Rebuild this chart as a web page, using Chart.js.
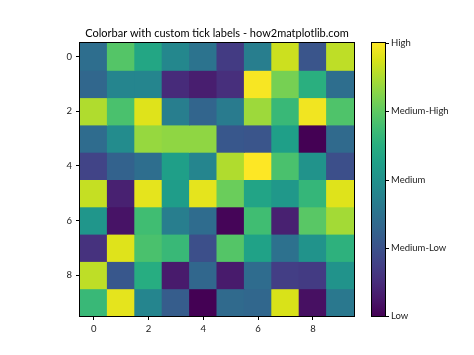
<!DOCTYPE html>
<html>
<head>
<meta charset="utf-8">
<script src="https://cdn.jsdelivr.net/npm/chart.js@4.4.1/dist/chart.umd.min.js"></script>
<style>
  html, body { margin: 0; padding: 0; background: #fff; }
  #wrap { width: 474px; height: 355px; }
</style>
</head>
<body>
<div id="wrap"><canvas id="c" width="474" height="355"></canvas></div>
<script>
// ---- data ----
const titleText = 'Colorbar with custom tick labels - how2matplotlib.com';
const columns = [0, 1, 2, 3, 4, 5, 6, 7, 8, 9];
const rowsIdx = [0, 1, 2, 3, 4, 5, 6, 7, 8, 9];
const row0 = [0.36, 0.73, 0.59, 0.46, 0.38, 0.17, 0.42, 0.92, 0.26, 0.90];
const row1 = [0.33, 0.45, 0.45, 0.12, 0.08, 0.13, 0.99, 0.79, 0.63, 0.36];
const row2 = [0.88, 0.71, 0.95, 0.42, 0.32, 0.41, 0.85, 0.67, 0.98, 0.72];
const row3 = [0.35, 0.48, 0.84, 0.83, 0.83, 0.27, 0.26, 0.56, 0.00, 0.34];
const row4 = [0.20, 0.31, 0.36, 0.56, 0.45, 0.88, 1.00, 0.71, 0.51, 0.24];
const row5 = [0.91, 0.09, 0.96, 0.55, 0.96, 0.77, 0.58, 0.53, 0.66, 0.95];
const row6 = [0.52, 0.05, 0.69, 0.42, 0.35, 0.01, 0.69, 0.09, 0.74, 0.86];
const row7 = [0.14, 0.95, 0.71, 0.67, 0.24, 0.73, 0.57, 0.37, 0.51, 0.64];
const row8 = [0.90, 0.27, 0.62, 0.07, 0.33, 0.07, 0.35, 0.18, 0.17, 0.51];
const row9 = [0.67, 0.96, 0.45, 0.29, 0.00, 0.34, 0.33, 0.94, 0.04, 0.40];
const gridRows = [row0, row1, row2, row3, row4, row5, row6, row7, row8, row9];
const axisTicks = [0, 2, 4, 6, 8];
const colorbarTicks = [0, 0.25, 0.5, 0.75, 1];
const colorbarLabels = ['Low', 'Medium-Low', 'Medium', 'Medium-High', 'High'];

// ---- viridis colormap ----
const viridisStops = ['#440154','#48186a','#472d7b','#424086','#3b528b','#33638d','#2c728e','#26828e',
  '#21918c','#1fa088','#28ae80','#3fbc73','#5ec962','#84d44b','#addc30','#d8e219','#fde725'];
function hex2rgb(h) { return [1,3,5].map(i => parseInt(h.substr(i, 2), 16)); }
const vmin = Math.min(...gridRows.flat()), vmax = Math.max(...gridRows.flat());
function viridis(v) {
  let t = (v - vmin) / (vmax - vmin);
  t = Math.max(0, Math.min(1, t));
  const p = t * (viridisStops.length - 1);
  const i = Math.min(Math.floor(p), viridisStops.length - 2);
  const f = p - i;
  const a = hex2rgb(viridisStops[i]), b = hex2rgb(viridisStops[i + 1]);
  const c = a.map((x, k) => Math.round(x + (b[k] - x) * f));
  return `rgb(${c[0]},${c[1]},${c[2]})`;
}

const FONT = 'Lato, "Noto Sans", sans-serif';

const datasets = rowsIdx.map(r => ({
  data: columns.map(c => ({ x: c, y: [r - 0.5, r + 0.5] })),
  backgroundColor: columns.map(c => viridis(gridRows[r][c])),
  borderWidth: 0,
  grouped: false,
  barPercentage: 1,
  categoryPercentage: 1,
  inflateAmount: 0.5
}));

const decorPlugin = {
  id: 'decor',
  afterDraw(chart) {
    const ctx = chart.ctx, a = chart.chartArea;
    ctx.save();
    ctx.strokeStyle = '#000';
    ctx.lineWidth = 1;
    ctx.strokeRect(Math.round(a.left) - 0.5, Math.round(a.top) - 0.5,
      Math.round(a.right - a.left) + 1, Math.round(a.bottom - a.top) + 1);
    const cb = chart.scales.cb;
    const x0 = cb.left + 18, w = 13;
    const yTop = cb.getPixelForValue(1), yBot = cb.getPixelForValue(0);
    const g = ctx.createLinearGradient(0, yBot, 0, yTop);
    viridisStops.forEach((s, i) => g.addColorStop(i / (viridisStops.length - 1), s));
    ctx.fillStyle = g;
    ctx.fillRect(x0, yTop, w, yBot - yTop);
    ctx.strokeStyle = '#000';
    ctx.lineWidth = 1;
    ctx.strokeRect(Math.round(x0) - 0.5, Math.round(yTop) - 0.5, w + 1, Math.round(yBot - yTop) + 1);
    ctx.beginPath();
    colorbarTicks.forEach(v => {
      const y = Math.round(cb.getPixelForValue(v)) + 0.5;
      ctx.moveTo(x0 + w, y); ctx.lineTo(x0 + w + 4, y);
    });
    ctx.stroke();
    ctx.fillStyle = '#000';
    ctx.font = '11px ' + FONT;
    ctx.textAlign = 'center';
    ctx.textBaseline = 'middle';
    ctx.fillText(titleText, (a.left + a.right) / 2, 33);
    ctx.restore();
  }
};

new Chart(document.getElementById('c'), {
  type: 'bar',
  data: { datasets },
  plugins: [decorPlugin],
  options: {
    responsive: false,
    animation: false,
    events: [],
    layout: { padding: { top: 43, left: 0, right: 0, bottom: 0 } },
    plugins: { legend: { display: false }, tooltip: { enabled: false }, title: { display: false } },
    scales: {
      x: {
        type: 'linear',
        min: -0.5, max: 9.5,
        offset: false,
        afterBuildTicks: s => { s.ticks = axisTicks.map(v => ({ value: v })); },
        afterFit: s => { s.height = 39; },
        border: { display: false },
        grid: { offset: false, drawOnChartArea: false, drawTicks: true, tickLength: 4, color: '#000' },
        ticks: { color: '#222', font: { size: 9.5, family: FONT }, padding: 3, maxRotation: 0, autoSkip: false,
          callback: v => String(v) }
      },
      y: {
        type: 'linear',
        reverse: true,
        min: -0.5, max: 9.5,
        afterBuildTicks: s => { s.ticks = axisTicks.map(v => ({ value: v })); },
        afterFit: s => { s.width = 80; },
        border: { display: false },
        grid: { offset: false, drawOnChartArea: false, drawTicks: true, tickLength: 4, color: '#000' },
        ticks: { color: '#222', font: { size: 9.5, family: FONT }, padding: 4, autoSkip: false,
          callback: v => String(v) }
      },
      cb: {
        type: 'linear',
        position: 'right',
        min: 0, max: 1,
        afterBuildTicks: s => { s.ticks = colorbarTicks.map(v => ({ value: v })); },
        afterFit: s => { s.width = 120; },
        border: { display: false },
        grid: { offset: false, drawOnChartArea: false, drawTicks: true, tickLength: 35, color: 'rgba(0,0,0,0)' },
        ticks: { color: '#222', font: { size: 9.5, family: FONT }, padding: 2, autoSkip: false,
          callback: (v, i) => colorbarLabels[colorbarTicks.indexOf(v)] }
      }
    }
  }
});
</script>
</body>
</html>
